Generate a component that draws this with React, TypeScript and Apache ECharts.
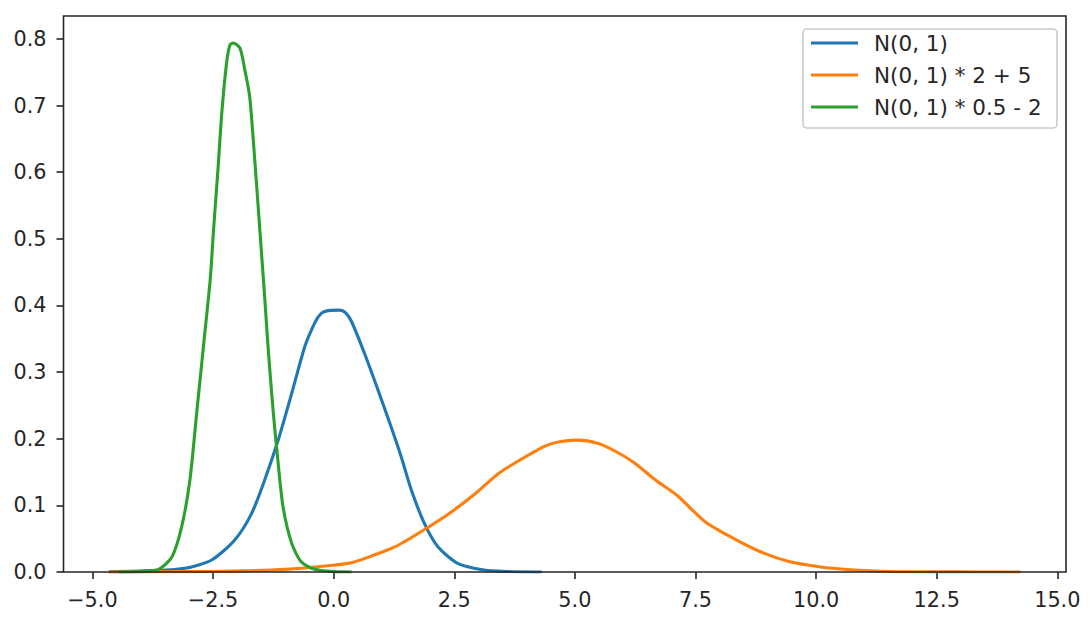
import React, { useEffect, useRef } from "react";
import * as echarts from "echarts";

const seriesNames = ["N(0, 1)", "N(0, 1) * 2 + 5", "N(0, 1) * 0.5 - 2"];
const seriesColors = ["#1f77b4", "#ff7f0e", "#2ca02c"];

const blueX = [-4.66, -3.77, -3.08, -2.53, -2.05, -1.7, -1.43, -1.15, -0.87, -0.6, -0.45, -0.32, -0.19, 0.12, 0.25, 0.37, 0.64, 0.92, 1.19, 1.4, 1.61, 1.88, 2.16, 2.57, 3.12, 3.6, 4.31];
const blueY = [0.0003, 0.002, 0.0055, 0.018, 0.048, 0.088, 0.138, 0.198, 0.268, 0.338, 0.365, 0.383, 0.391, 0.393, 0.389, 0.376, 0.328, 0.273, 0.218, 0.173, 0.123, 0.073, 0.038, 0.013, 0.003, 0.0008, 0.0001];

const orangeX = [-4.66, -3.5, -2.5, -1.7, -1.01, -0.32, 0.37, 0.84, 1.28, 1.8, 2.39, 2.9, 3.42, 3.86, 4.38, 4.68, 5.04, 5.49, 5.86, 6.23, 6.67, 7.11, 7.7, 8.22, 8.81, 9.4, 10.06, 10.8, 11.52, 12.5, 13.4, 14.24];
const orangeY = [0.0, 0.0003, 0.0008, 0.002, 0.004, 0.008, 0.014, 0.0255, 0.038, 0.06, 0.0875, 0.1155, 0.148, 0.168, 0.189, 0.1955, 0.198, 0.193, 0.1805, 0.164, 0.138, 0.1155, 0.0755, 0.053, 0.0315, 0.0165, 0.008, 0.003, 0.0008, 0.0002, 0.0001, 0.0];

const greenX = [-4.45, -4.0, -3.63, -3.35, -3.15, -2.98, -2.84, -2.7, -2.56, -2.49, -2.39, -2.32, -2.22, -2.15, -2.08, -1.94, -1.84, -1.74, -1.63, -1.53, -1.43, -1.36, -1.25, -1.15, -1.05, -0.87, -0.67, -0.39, 0.0, 0.37];
const greenY = [0.0, 0.0008, 0.004, 0.023, 0.068, 0.138, 0.238, 0.338, 0.438, 0.513, 0.613, 0.688, 0.764, 0.791, 0.794, 0.786, 0.753, 0.713, 0.613, 0.513, 0.413, 0.338, 0.238, 0.163, 0.098, 0.043, 0.015, 0.004, 0.0005, 0.0];

const xTicks = [-5, -2.5, 0, 2.5, 5, 7.5, 10, 12.5, 15];
const yTicks = [0, 0.1, 0.2, 0.3, 0.4, 0.5, 0.6, 0.7, 0.8];

const fmt = (v: number) => v.toFixed(1).replace("-", "\u2212");
const zip = (xs: number[], ys: number[]) => xs.map((x, i) => [x, ys[i]]);

export default function App() {
  const ref = useRef<HTMLDivElement>(null);
  useEffect(() => {
    if (!ref.current) return;
    const chart = echarts.init(ref.current, undefined, { renderer: "svg" });
    const font = "'DejaVu Sans', sans-serif";
    const textColor = "#262626";
    const dataSets = [zip(blueX, blueY), zip(orangeX, orangeY), zip(greenX, greenY)];
    const legendX = 803;
    const legendY = 29;
    const rowY = [43, 75, 107];
    const graphic: any[] = [
      {
        type: "rect",
        shape: { x: legendX, y: legendY, width: 254, height: 99, r: 4 },
        style: { fill: "rgba(255,255,255,0.8)", stroke: "#cccccc", lineWidth: 1.6 },
        z: 10,
      },
    ];
    seriesNames.forEach((name, i) => {
      graphic.push({
        type: "line",
        shape: { x1: 811, y1: rowY[i], x2: 858, y2: rowY[i] },
        style: { stroke: seriesColors[i], lineWidth: 3.1 },
        z: 11,
      });
      graphic.push({
        type: "text",
        x: 874,
        y: rowY[i],
        style: {
          text: name,
          fill: textColor,
          font: `21.5px ${font}`,
          verticalAlign: "middle",
          align: "left",
        },
        z: 11,
      });
    });
    chart.setOption({
      animation: false,
      backgroundColor: "#ffffff",
      grid: {
        left: 63.5,
        right: 24,
        top: 16,
        bottom: 52,
        show: true,
        borderColor: "#262626",
        borderWidth: 1.6,
        backgroundColor: "transparent",
        z: 5,
      },
      xAxis: {
        type: "value",
        min: -5.6,
        max: 15.18,
        splitLine: { show: false },
        axisLine: { show: false, onZero: false },
        axisTick: {
          show: true,
          length: 7,
          inside: false,
          customValues: xTicks,
          lineStyle: { color: "#262626", width: 1.6 },
        },
        axisLabel: {
          show: true,
          customValues: xTicks,
          formatter: (v: number) => fmt(v),
          margin: 17,
          color: textColor,
          fontSize: 20.8,
          fontFamily: font,
        },
      },
      yAxis: {
        type: "value",
        min: 0,
        max: 0.8345,
        splitLine: { show: false },
        axisLine: { show: false, onZero: false },
        axisTick: {
          show: true,
          length: 7,
          inside: false,
          customValues: yTicks,
          lineStyle: { color: "#262626", width: 1.6 },
        },
        axisLabel: {
          show: true,
          customValues: yTicks,
          formatter: (v: number) => v.toFixed(1),
          margin: 17,
          color: textColor,
          fontSize: 20.8,
          fontFamily: font,
        },
      },
      series: seriesNames.map((name, i) => ({
        name,
        type: "line",
        data: dataSets[i],
        showSymbol: false,
        smooth: 0.25,
        lineStyle: { color: seriesColors[i], width: 3.1 },
        itemStyle: { color: seriesColors[i] },
        z: 3,
      })),
      graphic,
    });
    return () => chart.dispose();
  }, []);
  return (
    <div
      ref={ref}
      style={{ position: "fixed", left: 0, top: 0, width: 1090, height: 624, background: "#fff" }}
    />
  );
}
